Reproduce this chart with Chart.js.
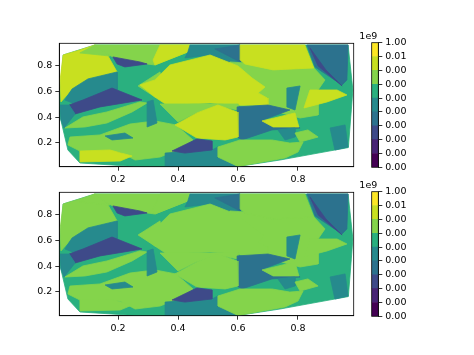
<!DOCTYPE html>
<html>
<head>
<meta charset="utf-8">
<script src="https://cdn.jsdelivr.net/npm/chart.js@4.4.0/dist/chart.umd.min.js"></script>
<style>
  body { margin: 0; background: #fff; }
  #wrap { position: relative; width: 474px; height: 355px; }
  #wrap canvas { position: absolute; left: 0; top: 0; }
</style>
</head>
<body>
<div id="wrap">
  <canvas id="plotTop" width="474" height="355"></canvas>
  <canvas id="plotBottom" width="474" height="355"></canvas>
  <canvas id="cbarTop" width="474" height="355"></canvas>
  <canvas id="cbarBottom" width="474" height="355"></canvas>
</div>
<script>
const xTicks = [0.2, 0.4, 0.6, 0.8];
const yTicks = [0.2, 0.4, 0.6, 0.8];
const xRange = [0.0043, 0.9857];
const yRange = [0.014, 0.974];

// filled band colours, lowest level first
const levelColors = ['#440154', '#482475', '#3e4a89', '#2c728e', '#268a8d',
                     '#2ab07f', '#84d44b', '#c8e020', '#fde725'];
const colorbarLabels = ['0.00', '0.00', '0.00', '0.00', '0.00',
                        '0.00', '0.00', '0.00', '0.01', '1.00'];
const colorbarOffset = '1e9';

// contour regions (x, y), drawn in order, later ones on top
const regionShapes = [
  [[0.017,0.883],[0.123,0.961],[0.967,0.961],[0.983,0.611],[0.968,0.163],[0.740,0.066],[0.600,0.016],[0.257,0.016],[0.073,0.043],[0.033,0.144],[0.007,0.401],[0.005,0.533]],
  [[0.017,0.883],[0.073,0.922],[0.123,0.961],[0.163,0.891],[0.197,0.751],[0.100,0.697],[0.047,0.619],[0.010,0.518],[0.007,0.689]],
  [[0.073,0.899],[0.123,0.961],[0.173,0.875]],
  [[0.123,0.961],[0.440,0.961],[0.433,0.907],[0.323,0.805],[0.273,0.821],[0.183,0.868],[0.163,0.891]],
  [[0.340,0.961],[0.440,0.961],[0.433,0.907],[0.323,0.805],[0.317,0.844]],
  [[0.183,0.868],[0.273,0.829],[0.297,0.813],[0.223,0.790],[0.197,0.813]],
  [[0.197,0.751],[0.197,0.611],[0.140,0.533],[0.057,0.502],[0.023,0.533],[0.047,0.619],[0.100,0.697]],
  [[0.037,0.494],[0.083,0.533],[0.180,0.626],[0.280,0.533],[0.140,0.479],[0.057,0.424]],
  [[0.007,0.494],[0.037,0.494],[0.057,0.424],[0.020,0.315],[0.010,0.377]],
  [[0.023,0.315],[0.083,0.401],[0.163,0.440],[0.273,0.518],[0.297,0.510],[0.247,0.440],[0.163,0.354],[0.090,0.323]],
  [[0.040,0.245],[0.140,0.261],[0.240,0.346],[0.323,0.370],[0.393,0.339],[0.450,0.222],[0.400,0.144],[0.340,0.089],[0.257,0.066],[0.207,0.128],[0.073,0.136],[0.033,0.183]],
  [[0.157,0.253],[0.223,0.276],[0.250,0.237],[0.180,0.222]],
  [[0.073,0.136],[0.173,0.144],[0.247,0.097],[0.207,0.058],[0.073,0.051]],
  [[0.297,0.518],[0.317,0.533],[0.330,0.354],[0.297,0.323]],
  [[0.433,0.907],[0.440,0.961],[0.607,0.961],[0.607,0.829],[0.600,0.798],[0.507,0.883],[0.423,0.860]],
  [[0.523,0.930],[0.607,0.961],[0.607,0.829]],
  [[0.267,0.642],[0.340,0.751],[0.357,0.533],[0.323,0.556]],
  [[0.573,0.829],[0.853,0.782],[0.890,0.689],[0.867,0.611],[0.867,0.416],[0.807,0.393],[0.707,0.455],[0.607,0.486],[0.573,0.611]],
  [[0.273,0.650],[0.323,0.689],[0.373,0.805],[0.507,0.883],[0.600,0.798],[0.647,0.704],[0.690,0.634],[0.667,0.588],[0.697,0.549],[0.700,0.494],[0.600,0.494],[0.507,0.510],[0.363,0.494],[0.323,0.556]],
  [[0.607,0.961],[0.823,0.961],[0.853,0.782],[0.717,0.767],[0.623,0.813],[0.607,0.844]],
  [[0.830,0.961],[0.967,0.961],[0.963,0.689],[0.947,0.650],[0.907,0.712],[0.857,0.790]],
  [[0.840,0.938],[0.867,0.798],[0.947,0.642],[0.893,0.767]],
  [[0.763,0.626],[0.807,0.642],[0.790,0.455],[0.763,0.479]],
  [[0.840,0.611],[0.930,0.611],[0.963,0.572],[0.897,0.518],[0.820,0.471]],
  [[0.340,0.502],[0.600,0.502],[0.600,0.455],[0.533,0.486],[0.460,0.432],[0.400,0.362]],
  [[0.597,0.479],[0.700,0.494],[0.773,0.455],[0.683,0.377],[0.757,0.362],[0.807,0.315],[0.713,0.300],[0.613,0.222],[0.597,0.245]],
  [[0.680,0.370],[0.790,0.432],[0.803,0.323],[0.717,0.323]],
  [[0.390,0.339],[0.463,0.432],[0.533,0.494],[0.597,0.440],[0.600,0.245],[0.557,0.222],[0.507,0.230],[0.463,0.237]],
  [[0.357,0.120],[0.513,0.144],[0.533,0.167],[0.533,0.089],[0.600,0.016],[0.357,0.016]],
  [[0.380,0.136],[0.463,0.230],[0.513,0.214],[0.513,0.144],[0.423,0.120]],
  [[0.533,0.167],[0.607,0.222],[0.713,0.222],[0.773,0.198],[0.817,0.206],[0.800,0.128],[0.757,0.082],[0.600,0.016],[0.533,0.089]],
  [[0.733,0.300],[0.790,0.315],[0.790,0.245],[0.757,0.222]],
  [[0.790,0.276],[0.833,0.300],[0.867,0.245],[0.807,0.206]],
  [[0.907,0.315],[0.957,0.339],[0.967,0.167],[0.923,0.144]]
];

// level index of each region in the two panels
const topLevels    = [5,7,6,6,7,2,4,2,4,6,6,4,7,4,4,3,6,6,7,7,3,2,4,7,6,3,7,7,4,2,6,4,6,4];
const bottomLevels = [5,6,6,6,6,2,4,2,4,6,6,4,6,4,4,3,6,6,6,6,3,2,4,6,6,3,6,6,4,2,6,4,6,4];

Chart.defaults.font.family = 'DejaVu Sans';
Chart.defaults.font.size = 9.5;
Chart.defaults.color = '#000';

// black box round the axes, like matplotlib spines
const frame = {
  id: 'frame',
  afterDraw(chart) {
    const a = chart.chartArea;
    const ctx = chart.ctx;
    ctx.save();
    ctx.strokeStyle = '#000';
    ctx.lineWidth = 0.8;
    ctx.strokeRect(a.left, a.top, a.right - a.left, a.bottom - a.top);
    ctx.restore();
  }
};

const offsetText = {
  id: 'offsetText',
  afterDraw(chart) {
    const a = chart.chartArea;
    const ctx = chart.ctx;
    ctx.save();
    ctx.fillStyle = '#000';
    ctx.font = '9.5px "DejaVu Sans"';
    ctx.textAlign = 'right';
    ctx.textBaseline = 'alphabetic';
    ctx.fillText(colorbarOffset, a.right - 1, a.top - 3.5);
    ctx.restore();
  }
};

function tickAxis(extra) {
  return Object.assign({
    grid: { drawOnChartArea: false, tickLength: 4, tickColor: '#000', tickWidth: 0.8 },
    border: { color: '#000', width: 0.8 }
  }, extra);
}

function makePlot(id, levels, top, bottom) {
  new Chart(document.getElementById(id), {
    type: 'line',
    data: {
      datasets: regionShapes.map((shape, i) => ({
        data: shape.concat([shape[0]]).map(p => ({ x: p[0], y: p[1] })),
        fill: 'shape',
        backgroundColor: levelColors[levels[i]],
        borderColor: levelColors[levels[i]],
        borderWidth: 0.8,
        pointRadius: 0,
        tension: 0,
        order: regionShapes.length - i
      }))
    },
    options: {
      responsive: false,
      animation: false,
      events: [],
      layout: { padding: { left: 0, right: 474 - 353.7, top: top, bottom: 355 - bottom - 20 } },
      plugins: { legend: { display: false }, tooltip: { enabled: false } },
      scales: {
        x: tickAxis({
          type: 'linear', min: xRange[0], max: xRange[1],
          afterBuildTicks: s => { s.ticks = xTicks.map(v => ({ value: v })); },
          afterFit: s => { s.height = 20; },
          ticks: { padding: 3, maxRotation: 0, autoSkip: false, callback: v => v.toFixed(1) }
        }),
        y: tickAxis({
          type: 'linear', min: yRange[0], max: yRange[1],
          afterBuildTicks: s => { s.ticks = yTicks.map(v => ({ value: v })); },
          afterFit: s => { s.width = 59.3; },
          ticks: { padding: 3, autoSkip: false, callback: v => v.toFixed(1) }
        })
      }
    },
    plugins: [frame]
  });
}

function makeColorbar(id, top, bottom) {
  new Chart(document.getElementById(id), {
    type: 'bar',
    data: {
      labels: [''],
      datasets: levelColors.map(c => ({
        data: [1],
        backgroundColor: c,
        borderWidth: 0,
        barPercentage: 1,
        categoryPercentage: 1
      }))
    },
    options: {
      responsive: false,
      animation: false,
      events: [],
      layout: { padding: { left: 371.7, right: 474 - 378.3 - 50, top: top, bottom: 355 - bottom } },
      plugins: { legend: { display: false }, tooltip: { enabled: false } },
      scales: {
        x: { display: false, stacked: true },
        y: tickAxis({
          position: 'right', stacked: true, min: 0, max: levelColors.length,
          afterBuildTicks: s => { s.ticks = colorbarLabels.map((_, i) => ({ value: i })); },
          afterFit: s => { s.width = 50; },
          ticks: { padding: 3, autoSkip: false, callback: v => colorbarLabels[v] }
        })
      }
    },
    plugins: [frame, offsetText]
  });
}

makePlot('plotTop', topLevels, 43.3, 166.7);
makePlot('plotBottom', bottomLevels, 192.3, 315.7);
makeColorbar('cbarTop', 42.7, 167.3);
makeColorbar('cbarBottom', 191.7, 316.3);
</script>
</body>
</html>
